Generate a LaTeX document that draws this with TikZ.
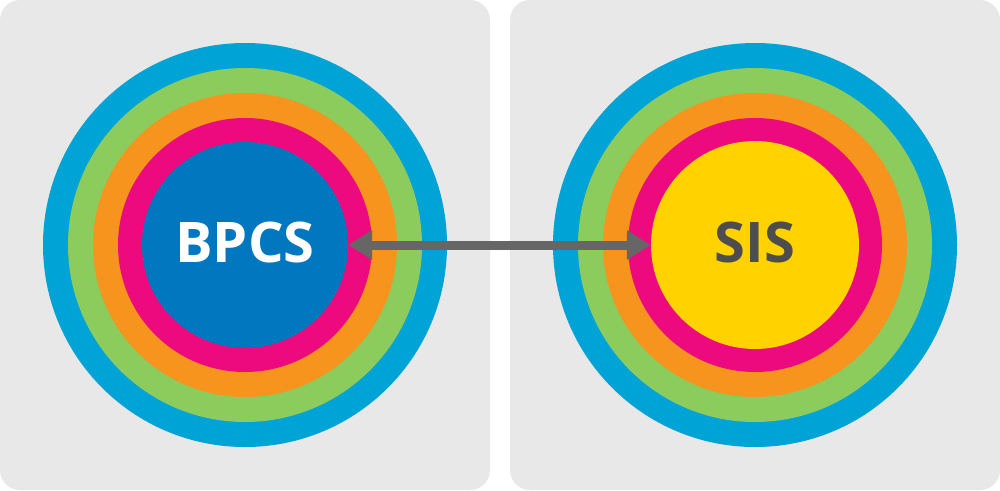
\documentclass[tikz,border=0pt]{standalone}
\usepackage{fontspec}
\setmainfont{Open Sans}
\usetikzlibrary{arrows.meta}
\definecolor{panelgray}{HTML}{E8E8E8}
\definecolor{ringblue}{HTML}{00A3D6}
\definecolor{ringgreen}{HTML}{8CCC5C}
\definecolor{ringorange}{HTML}{F7941D}
\definecolor{ringpink}{HTML}{EC0A7E}
\definecolor{coreblue}{HTML}{0077BF}
\definecolor{coreyellow}{HTML}{FFD200}
\definecolor{arrowgray}{HTML}{666666}
\definecolor{textgray}{HTML}{4D4D4D}
\tikzset{
  panel/.style={fill=panelgray, draw=none, rounded corners=20pt},
  ring/.style={circle, draw=none, inner sep=0pt, minimum size=#1},
  label/.style={font=\bfseries\fontsize{56}{60}\selectfont, inner sep=0pt},
  link/.style={arrowgray, line width=9pt, {Triangle[length=24pt,width=28pt]}-{Triangle[length=24pt,width=28pt]}}
}
\begin{document}
\begin{tikzpicture}[x=1pt,y=-1pt]
\useasboundingbox (0,0) rectangle (1000,490);
\fill[white] (0,0) rectangle (1000,490);
\fill[panel] (0,0) rectangle (490,490);
\fill[panel] (510,0) rectangle (1000,490);
% left rings
\node[ring=404pt, fill=ringblue] (l1) at (245,245) {};
\node[ring=354pt, fill=ringgreen] (l2) at (245,245) {};
\node[ring=304pt, fill=ringorange] (l3) at (245,245) {};
\node[ring=254pt, fill=ringpink] (l4) at (245,245) {};
\node[ring=206pt, fill=coreblue] (bpcs) at (245,245) {};
% right rings
\node[ring=404pt, fill=ringblue] (r1) at (755,245) {};
\node[ring=354pt, fill=ringgreen] (r2) at (755,245) {};
\node[ring=304pt, fill=ringorange] (r3) at (755,245) {};
\node[ring=254pt, fill=ringpink] (r4) at (755,245) {};
\node[ring=208pt, fill=coreyellow] (sis) at (755,245) {};
% labels
\node[label, text=white] (tb) at (245,242) {BPCS};
\node[label, text=textgray] (ts) at (755,242) {SIS};
% arrow
\draw[link] (bpcs.east) -- (sis.west);
\end{tikzpicture}
\end{document}
